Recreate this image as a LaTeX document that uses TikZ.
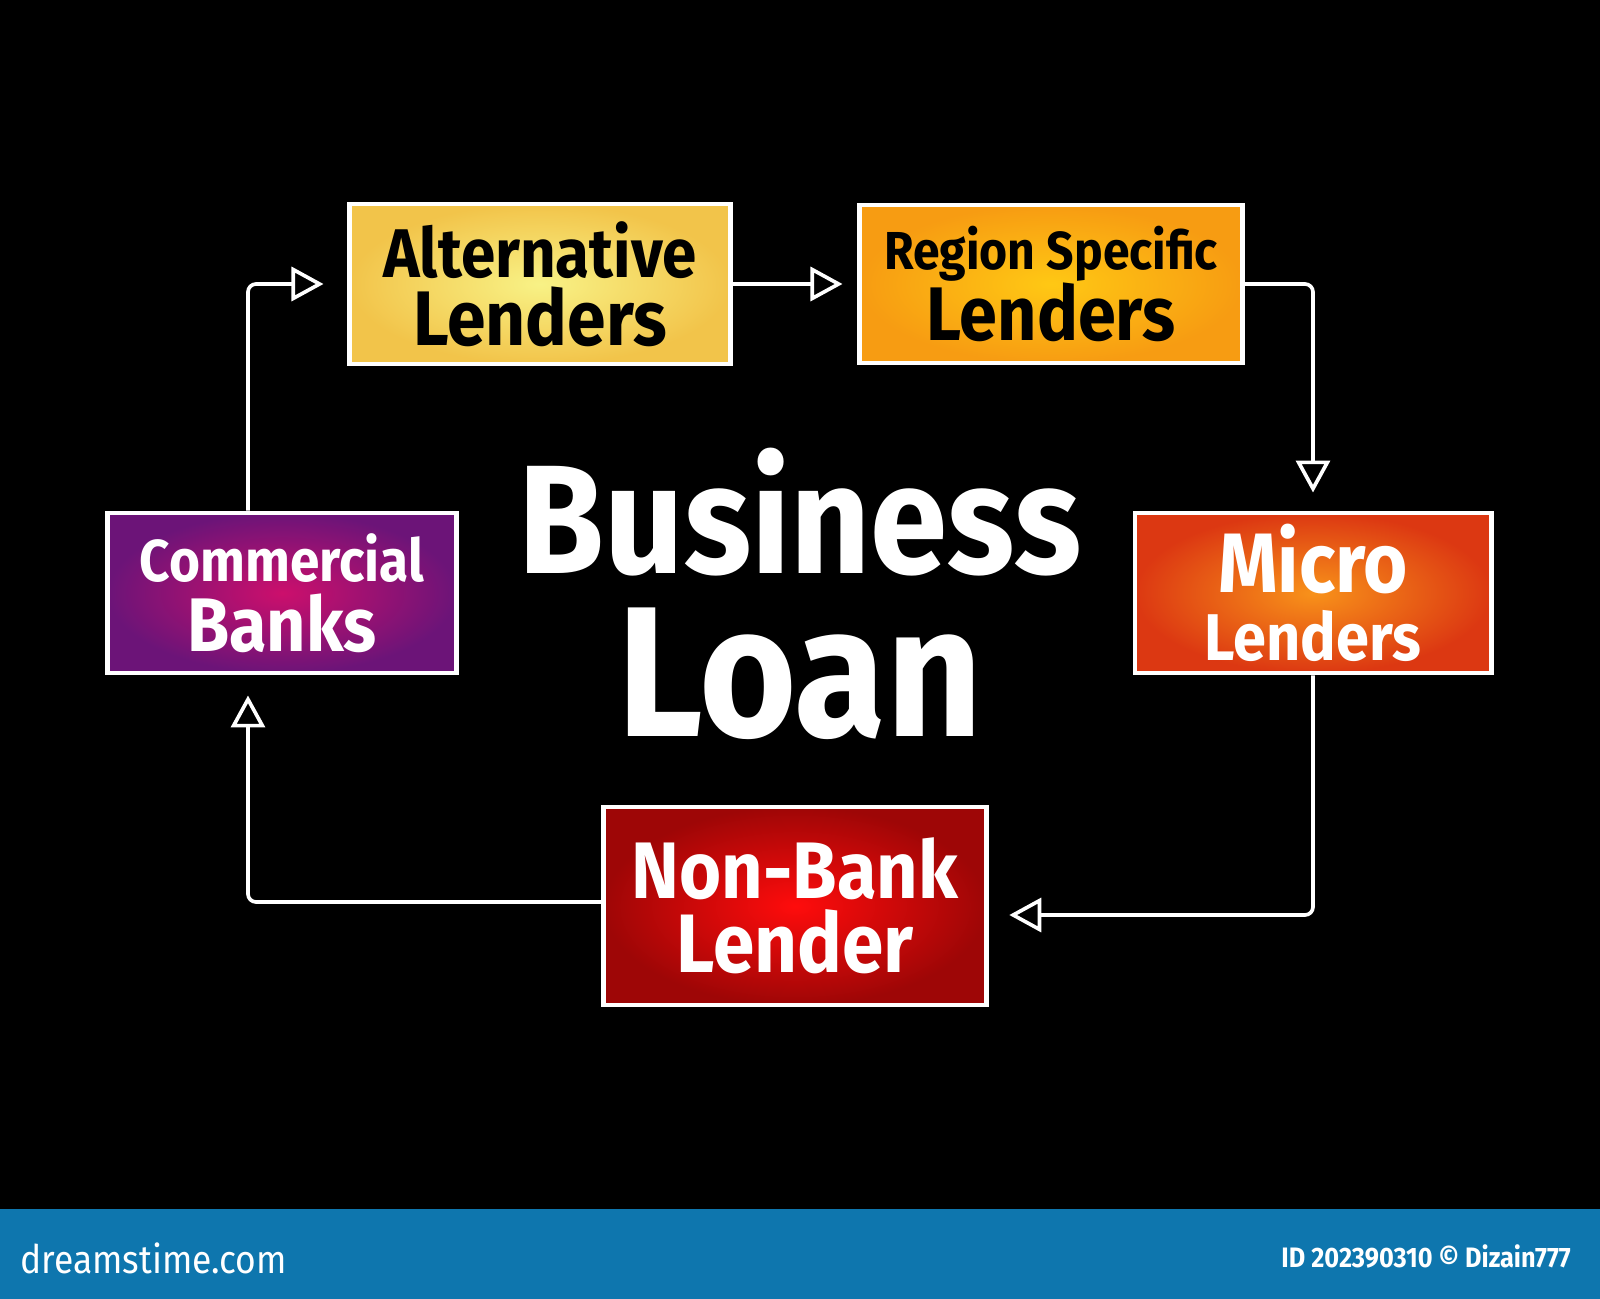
\documentclass[tikz,border=0pt]{standalone}
\usepackage{fontspec}
\setmainfont{Fira Sans}
\newfontfamily\hand{Fira Sans}[FakeStretch=0.9]
\usetikzlibrary{arrows.meta,positioning}
\definecolor{barblue}{HTML}{0E76AE}
\definecolor{altin}{HTML}{F8F286}
\definecolor{altout}{HTML}{F2C44A}
\definecolor{regin}{HTML}{FFC814}
\definecolor{regout}{HTML}{F79C12}
\definecolor{comin}{HTML}{CC0F6C}
\definecolor{comout}{HTML}{6C1478}
\definecolor{micin}{HTML}{F8921A}
\definecolor{micout}{HTML}{DC3812}
\definecolor{nbin}{HTML}{FF0C0C}
\definecolor{nbout}{HTML}{9E0606}
\tikzstyle{lender}=[draw=white,line width=3.5pt,shading=radial,align=center,
  inner sep=0pt,minimum height=4cm]
\tikzstyle{flow}=[draw=white,line width=2.6pt,rounded corners=0.2cm,
  -{Triangle[open,length=0.8cm,width=0.85cm]}]
\newcommand\lsize[2]{\hand\bfseries\fontsize{#1}{#2}\selectfont\lineskiplimit=-100pt}

\begin{document}
\begin{tikzpicture}[x=0.025cm,y=-0.025cm]
  \fill[black] (0,0) rectangle (1600,1299);
  % the five kinds of lender
  \node[lender,minimum width=9.5cm,inner color=altin,outer color=altout,
        text=black,font=\lsize{49}{48}] (alt) at (540,284)
        {Alternative\\\fontsize{55}{48}\selectfont Lenders};
  \node[lender,minimum width=9.55cm,minimum height=3.95cm,inner color=regin,
        outer color=regout,text=black,font=\lsize{38}{50}] (region) at (1051,284)
        {Region Specific\\\fontsize{54}{50}\selectfont Lenders};
  \node[lender,minimum width=8.7cm,inner color=comin,outer color=comout,
        text=white,font=\lsize{42}{50}] (commercial) at (282,593)
        {Commercial\\\fontsize{54}{50}\selectfont Banks};
  \node[lender,minimum width=8.9cm,inner color=micin,outer color=micout,
        text=white,font=\lsize{60}{48}] (micro) at (1313,593)
        {Micro\\\fontsize{47}{48}\selectfont Lenders};
  \node[lender,minimum width=9.55cm,minimum height=4.95cm,inner color=nbin,
        outer color=nbout,text=white,font=\lsize{57}{53}] (nonbank) at (795,906)
        {Non-Bank\\\fontsize{59}{53}\selectfont Lender};

  % title in the middle
  \node[text=white,align=center,font=\lsize{110}{116}] (title) at (800,594)
    {Business\\\fontsize{132}{116}\selectfont Loan};

  % the cycle
  \draw[flow,shorten >=0.375cm] (alt) -- (region);
  \draw[flow,shorten >=0.45cm] (region.east) -| (micro.north);
  \draw[flow,shorten >=0.52cm] (micro.south) |- ([yshift=-0.225cm]nonbank.east);
  \draw[flow,shorten >=0.5cm] ([yshift=0.1cm]nonbank.west) -| ([xshift=-0.85cm]commercial.south);
  \draw[flow,shorten >=0.6cm] ([xshift=-0.85cm]commercial.north) |- (alt.west);

  % footer bar
  \fill[barblue] (0,1209) rectangle (1600,1299);
  \node[anchor=west,text=white,inner sep=0pt,font=\hand\fontsize{28}{32}\selectfont]
    (site) at (20,1258) {dreamstime.com};
  \node[anchor=east,text=white,inner sep=0pt,font=\hand\bfseries\fontsize{20}{22}\selectfont]
    (imgid) at (1571,1256) {ID 202390310 © Dizain777};
\end{tikzpicture}
\end{document}
